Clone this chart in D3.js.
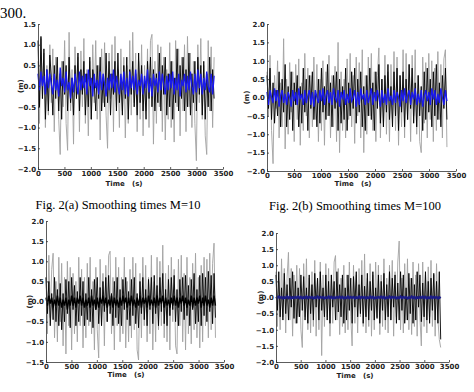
<!DOCTYPE html>
<html><head><meta charset="utf-8">
<script src="https://cdn.jsdelivr.net/npm/d3@7/dist/d3.min.js"></script>
<style>html,body{margin:0;padding:0;background:#fff}svg{display:block}</style>
</head><body>
<svg id="c" width="474" height="392"></svg>
<script>
// ---- data ----
const dt = 28; // sampling step (s)
const xTicks = [0,500,1000,1500,2000,2500,3000,3500];
const yTicksA = [1.5,1.0,0.5,0.0,-0.5,-1.0,-1.5,-2.0];
const yTicksB = [2.0,1.5,1.0,0.5,0.0,-0.5,-1.0,-1.5,-2.0];
const yTicksC = [2.0,1.5,1.0,0.5,0.0,-0.5,-1.0,-1.5];
const captions = ["Fig. 2(a) Smoothing times M=10","Fig. 2(b) Smoothing times M=100"];

const raw1 = [0.6,-0.9,1.15,-0.3,0.8,-1.0,0.5,-0.7,1.0,-0.4,
 0.9,-1.1,0.7,0.3,-0.8,-1.65,0.6,-0.5,1.1,-0.9,
 -1.55,1.3,-0.6,0.4,-1.4,0.95,-0.3,0.7,-1.1,0.85,
 -0.5,1.15,-0.9,0.4,-1.2,0.6,-0.8,1.0,-0.4,1.1,
 -0.8,0.5,-1.3,0.9,-0.4,1.05,-0.7,-1.5,0.8,-0.3,
 1.0,-1.1,1.2,-0.5,0.4,-1.0,0.9,-0.6,0.7,-1.25,
 0.5,-0.9,1.1,-0.7,1.3,-0.4,0.8,-1.1,0.6,-0.8,
 1.0,-1.2,0.5,-0.6,0.9,-1.0,1.1,1.25,-1.4,0.6,
 -0.9,1.0,-0.5,0.95,-1.1,0.7,-1.3,0.4,-0.8,1.05,
 -1.0,0.6,-1.35,1.1,-0.5,0.9,-1.2,0.7,-0.6,1.0,
 -1.1,1.2,-0.5,0.8,-1.0,0.6,-0.9,-1.8,1.0,-0.4,
 1.15,-0.8,0.5,-1.2,-1.65,1.1,-0.6,0.95,-1.0,0.7];
const mid1 = [1.1,-0.5,1.2,-0.3,0.9,-0.8,0.4,-0.6,0.75,0.2,
 -0.7,0.5,-0.3,0.7,-0.6,0.3,-0.8,0.6,-0.2,0.5,
 -0.6,0.7,-0.4,0.2,-0.7,0.5,-0.3,0.8,-0.6,0.4,
 -0.2,0.6,-0.7,0.3,-0.5,0.7,-0.8,0.4,0.1,-0.6,
 0.5,-0.3,0.7,-0.6,0.2,-0.5,0.8,-0.4,0.6,-0.7,
 0.3,-0.2,0.6,-0.6,0.8,-0.4,0.2,-0.7,0.5,-0.3,
 0.7,-0.8,0.4,-0.2,0.6,-0.5,0.3,-0.7,0.8,-0.4,
 0.5,-0.6,0.2,-0.8,0.6,-0.3,0.7,-0.5,0.4,-0.6,
 0.3,-0.4,0.8,-0.6,0.5,-0.2,0.7,-0.7,0.3,-0.5,
 0.6,-0.8,0.2,-0.4,0.9,-0.6,0.5,-0.3,0.7,-0.6,
 0.4,-0.5,0.8,-0.7,0.3,-0.4,0.6,-0.6,0.7,-0.2,
 0.5,-0.7,0.6,-0.8,0.3,-0.5,0.7,-0.6,0.4,-0.3];
const smooth1 = [0.3,-0.1,0.35,0.0,0.25,-0.2,0.4,-0.05,0.3,0.05,
 -0.2,0.3,-0.1,0.15,-0.25,0.45,0.0,0.2,-0.15,0.35,
 -0.1,0.1,-0.3,0.2,-0.15,0.3,0.05,-0.2,0.35,-0.1,
 0.25,-0.05,0.3,-0.2,0.4,0.0,0.2,-0.25,0.3,-0.05,
 0.15,-0.2,0.35,-0.1,0.3,0.05,-0.25,0.2,-0.1,0.3,
 -0.05,0.4,-0.15,0.25,0.0,-0.2,0.3,-0.1,0.35,-0.2,
 0.2,-0.25,0.35,-0.05,0.25,-0.1,0.4,-0.2,0.15,0.0,
 0.3,-0.2,0.25,-0.05,0.4,-0.15,0.2,-0.25,0.3,0.0,
 0.2,-0.15,0.35,-0.1,0.3,0.05,-0.2,0.25,-0.1,0.3,
 -0.05,0.35,-0.2,0.2,-0.1,0.3,-0.25,0.15,0.0,0.3,
 -0.15,0.25,-0.1,0.35,0.0,-0.2,0.3,-0.15,0.4,-0.05,
 0.3,-0.2,0.2,-0.1,0.35,0.0,-0.15,0.3,-0.2,0.25];

const raw2 = [0.7,-0.5,1.15,-0.9,-1.8,0.6,-0.3,1.0,-1.1,0.4,
 -0.8,1.6,-1.4,0.5,-1.0,0.95,-0.4,0.7,-1.2,0.9,
 -0.6,1.05,-1.3,0.4,-0.9,1.2,-0.5,0.8,-1.1,0.6,
 -0.8,1.1,-0.6,0.9,-1.2,0.5,-0.9,1.0,-1.3,0.7,
 -0.5,1.15,-1.1,0.6,-0.8,0.85,-1.2,1.5,-1.5,0.7,
 -0.9,0.5,-1.1,1.05,-0.6,1.2,-0.8,0.6,-1.25,1.1,
 -0.5,0.95,-1.1,1.3,-1.5,0.6,-1.0,1.1,-0.5,1.2,
 -0.9,0.7,-1.2,0.6,1.35,-1.1,0.5,-0.8,1.15,-1.0,
 0.7,-1.2,0.9,-0.6,1.25,-0.9,1.1,-1.3,0.6,-0.8,
 1.3,-1.1,1.2,-0.6,0.9,-1.2,1.15,-0.5,1.3,-1.0,
 0.6,-1.2,-1.5,1.1,-0.7,0.95,-1.1,1.2,-0.6,1.0,
 -1.2,0.8,-0.9,1.25,-0.6,0.9,-1.1,1.05,1.3,-1.35];
const mid2 = [0.6,-0.3,0.8,-0.6,0.4,-0.7,0.2,-0.5,0.7,-0.8,
 0.5,-0.4,0.9,-0.8,0.3,-0.6,0.7,-0.9,0.4,-0.2,
 0.6,-0.8,0.3,-0.7,0.8,-0.4,0.5,-0.9,0.6,-0.3,
 0.7,-0.6,0.2,-0.8,0.5,-0.7,0.8,-0.4,0.3,-0.6,
 0.9,-0.5,0.4,-0.8,0.6,-0.3,0.7,-0.9,0.5,-0.7,
 0.3,-0.6,0.8,-0.9,0.4,-0.5,0.7,-0.3,0.8,-0.7,
 0.5,-0.4,0.7,-0.8,0.3,-0.9,0.6,-0.5,0.8,-0.6,
 0.4,-0.9,0.7,-0.3,0.9,-0.7,0.5,-0.8,0.6,-0.4,
 0.9,-0.6,0.3,-0.8,0.7,-0.5,0.8,-0.9,0.6,-0.4,
 0.7,-0.8,0.5,-0.6,0.9,-0.3,0.8,-0.7,0.4,-0.8,
 0.6,-0.5,0.3,-0.9,0.7,-0.6,0.8,-0.4,0.5,-0.8,
 0.7,-0.5,0.9,-0.6,0.4,-0.8,0.6,-0.3,0.8,-0.6];
const smooth2 = [0.15,-0.2,0.2,0.0,-0.15,0.25,-0.1,0.2,-0.25,0.05,
 0.2,-0.15,0.1,-0.2,0.15,0.0,-0.25,0.2,-0.1,0.15,
 -0.2,0.25,-0.05,0.1,-0.2,0.2,-0.15,0.05,0.2,-0.2,
 0.15,-0.25,0.2,0.0,-0.15,0.2,-0.1,0.25,-0.2,0.05,
 0.2,-0.15,0.15,-0.2,0.25,0.0,-0.1,0.2,-0.25,0.15,
 -0.05,0.2,-0.2,0.1,-0.15,0.25,-0.1,0.0,0.2,-0.25,
 0.15,-0.2,0.25,-0.05,0.1,-0.2,0.2,-0.15,0.05,0.25,
 -0.2,0.15,-0.1,0.2,0.0,-0.25,0.2,-0.15,0.1,-0.2,
 0.25,-0.1,0.05,-0.2,0.2,-0.15,0.15,0.0,-0.25,0.2,
 -0.1,0.25,-0.15,0.05,0.2,-0.2,0.15,-0.05,0.25,-0.2,
 0.1,-0.15,0.2,-0.25,0.05,0.2,-0.1,0.15,-0.2,0.25,
 -0.05,0.2,-0.2,0.1,-0.15,0.25,0.0,-0.2,0.2,-0.1];

const raw3 = [0.6,-0.8,1.15,-0.4,0.8,1.2,-0.9,0.5,-1.0,1.1,
 -0.5,0.95,-1.1,0.6,-1.3,1.0,-0.6,0.85,-1.2,0.7,
 -0.8,0.5,-1.0,1.1,-0.6,0.8,-1.15,0.6,-0.9,0.95,
 -0.6,1.1,-0.8,0.5,-1.2,0.85,-0.7,-1.4,1.05,-0.5,
 0.7,-1.1,0.9,-0.5,1.15,1.25,-0.8,0.6,-1.2,1.1,
 -0.6,0.85,-1.0,0.6,-0.8,1.1,-1.15,0.5,-1.0,0.8,
 -0.9,1.1,-0.7,0.95,-1.2,-1.45,0.7,-0.9,1.1,-0.6,
 0.9,-1.0,0.6,-0.8,1.15,-1.2,0.5,-1.0,1.1,-0.7,
 1.0,-0.6,1.4,-0.9,0.7,-1.0,0.9,-1.2,1.1,-0.5,
 0.8,-1.1,-1.3,1.05,-0.6,1.15,-1.0,0.7,-1.2,1.1,
 -0.8,0.6,-1.05,0.95,-0.7,1.2,-0.9,0.6,-1.15,0.9,
 -1.0,1.1,-0.6,1.05,-0.9,1.2,-0.7,0.95,1.45,-0.9];
const mid3 = [0.6,-0.3,0.5,-0.6,0.2,-0.45,0.6,-0.5,0.3,-0.6,
 0.45,-0.7,0.2,-0.5,0.55,-0.3,0.5,-0.65,0.6,-0.2,
 0.4,-0.6,0.25,-0.5,0.6,-0.35,0.5,-0.6,0.2,-0.45,
 0.6,-0.5,0.3,-0.65,0.55,-0.2,0.6,-0.55,0.35,-0.6,
 0.5,-0.25,0.6,-0.5,0.65,-0.3,0.2,-0.6,0.5,-0.4,
 0.6,-0.55,0.3,-0.6,0.55,-0.2,0.6,-0.45,0.25,-0.6,
 0.55,-0.35,0.6,-0.55,0.2,-0.65,0.5,-0.3,0.6,-0.45,
 0.3,-0.6,0.55,-0.2,0.6,-0.55,0.65,-0.3,0.4,-0.6,
 0.6,-0.25,0.7,-0.55,0.3,-0.6,0.55,-0.35,0.6,-0.2,
 0.65,-0.5,0.3,-0.6,0.55,-0.25,0.6,-0.45,0.65,-0.35,
 0.4,-0.6,0.55,-0.2,0.7,-0.55,0.3,-0.5,0.65,-0.6,
 0.7,-0.35,0.6,-0.5,0.75,-0.25,0.65,-0.55,0.7,-0.4];
const smooth3 = [0.1,-0.1,0.15,-0.05,0.1,-0.15,0.05,-0.1,0.15,-0.1,
 0.1,-0.15,0.05,-0.1,0.1,-0.2,0.05,-0.1,0.15,-0.1,
 0.1,-0.15,0.1,-0.05,0.15,-0.1,0.1,-0.15,0.05,-0.1,
 0.1,-0.15,0.15,-0.1,0.05,-0.2,0.1,-0.15,0.1,-0.05,
 0.15,-0.1,0.1,-0.15,0.05,-0.1,0.15,-0.15,0.1,-0.1,
 0.05,-0.15,0.1,-0.1,0.15,-0.05,0.1,-0.15,0.1,-0.1,
 0.15,-0.1,0.05,-0.15,0.1,-0.1,0.15,-0.15,0.1,-0.05,
 0.1,-0.15,0.15,-0.1,0.05,-0.1,0.1,-0.15,0.15,-0.1,
 0.1,-0.05,0.15,-0.15,0.1,-0.1,0.05,-0.15,0.1,-0.1,
 0.15,-0.1,0.1,-0.15,0.1,-0.05,0.15,-0.1,0.1,-0.15,
 0.05,-0.1,0.15,-0.15,0.1,-0.1,0.1,-0.05,0.15,-0.15,
 0.1,-0.1,0.15,-0.1,0.05,-0.15,0.1,-0.1,0.15,-0.1];

const raw4 = [0.8,-0.9,0.5,-1.0,1.2,-0.6,0.9,-1.1,0.6,1.4,
 -0.7,0.9,-1.2,0.7,-0.8,1.0,-0.6,0.9,-1.0,-1.55,
 1.05,-0.6,1.2,-1.0,0.6,-1.1,0.8,-0.9,1.15,-1.2,
 0.6,-1.0,1.1,-1.8,0.7,-0.9,1.05,-0.6,0.9,-1.2,
 0.7,-0.8,1.1,1.3,-0.7,0.9,-1.15,0.6,-0.9,1.0,
 -1.1,0.7,-1.0,1.1,-0.6,-1.5,1.0,-0.8,0.7,-1.1,
 0.9,-0.6,1.15,-0.9,1.35,-1.1,0.6,-0.9,1.05,-1.2,
 0.7,-1.0,1.1,-0.6,1.0,-1.15,0.7,-0.9,1.2,-1.0,
 0.6,-1.1,1.0,-0.7,1.15,-1.2,0.8,-0.6,1.1,1.75,
 -1.0,0.6,-1.1,1.05,-0.7,1.2,-1.0,0.6,-1.15,1.1,
 -0.9,0.7,-1.2,1.05,-0.6,-1.5,1.1,-0.9,0.7,-1.1,
 0.95,-0.6,1.15,-0.9,0.7,-1.2,1.05,-0.7,-1.3,-1.55];
const mid4 = [0.7,-0.4,0.8,-0.6,0.3,-0.7,0.75,-0.5,0.4,-0.7,
 0.6,-0.3,0.8,-0.65,0.5,-0.8,0.3,-0.6,0.7,-0.4,
 0.65,-0.7,0.3,-0.8,0.7,-0.5,0.4,-0.7,0.75,-0.3,
 0.6,-0.7,0.8,-0.4,0.3,-0.6,0.7,-0.7,0.5,-0.8,
 0.7,-0.3,0.5,-0.7,0.8,-0.45,0.4,-0.6,0.7,-0.8,
 0.3,-0.7,0.7,-0.4,0.6,-0.8,0.65,-0.3,0.8,-0.6,
 0.4,-0.5,0.7,-0.8,0.35,-0.6,0.75,-0.7,0.5,-0.4,
 0.8,-0.7,0.3,-0.65,0.7,-0.8,0.5,-0.4,0.75,-0.7,
 0.4,-0.6,0.8,-0.7,0.6,-0.3,0.7,-0.8,0.45,-0.7,
 0.8,-0.4,0.7,-0.8,0.3,-0.7,0.75,-0.5,0.6,-0.8,
 0.4,-0.7,0.8,-0.3,0.7,-0.75,0.45,-0.6,0.8,-0.7,
 0.5,-0.8,0.6,-0.4,0.75,-0.7,0.5,-0.8,0.8,-1.3];
const smooth4 = [0.02,-0.02,0.03,-0.01,0.02,-0.03,0.01,-0.02,0.03,-0.02,
 0.02,-0.03,0.01,-0.02,0.02,-0.01,0.03,-0.02,0.02,-0.03,
 0.01,-0.02,0.03,-0.02,0.02,-0.01,0.02,-0.03,0.01,-0.02,
 0.03,-0.02,0.02,-0.01,0.02,-0.03,0.01,-0.02,0.03,-0.02,
 0.02,-0.03,0.01,-0.02,0.02,-0.01,0.03,-0.02,0.02,-0.03,
 0.01,-0.02,0.03,-0.02,0.02,-0.01,0.02,-0.03,0.01,-0.02,
 0.03,-0.02,0.02,-0.01,0.02,-0.03,0.01,-0.02,0.03,-0.02,
 0.02,-0.03,0.01,-0.02,0.02,-0.01,0.03,-0.02,0.02,-0.03,
 0.01,-0.02,0.03,-0.02,0.02,-0.01,0.02,-0.03,0.01,-0.02,
 0.03,-0.02,0.02,-0.01,0.02,-0.03,0.01,-0.02,0.03,-0.02,
 0.02,-0.03,0.01,-0.02,0.02,-0.01,0.03,-0.02,0.02,-0.03,
 0.01,-0.02,0.03,-0.02,0.02,-0.01,0.02,-0.03,0.01,-0.02];

// ---- drawing ----
const svg = d3.select('#c');
const GRAY = '#a2a2a2', BLACK = '#000', BLUE = '#1a1aee', NAVY = '#1c1c88';

svg.append('text').attr('x', 0).attr('y', 18)
  .style('font-family', '"Liberation Serif", serif').style('font-size', '15px')
  .text('300.');

function panel(o) {
  const x = d3.scaleLinear().domain([0, 3500]).range([o.x0, o.x1]);
  const y = d3.scaleLinear().domain(o.yDom).range([o.yBot, o.yTop]);
  const line = d3.line().x((d, i) => x(i * dt)).y(d => y(d));
  o.series.forEach(s => {
    svg.append('path').attr('d', line(s.v)).attr('fill', 'none')
      .attr('stroke', s.c).attr('stroke-width', s.w).attr('stroke-linejoin', 'miter');
  });
  const ax = svg.append('g').attr('transform', `translate(${o.x0},0)`)
    .call(d3.axisLeft(y).tickValues(o.yTicks).tickFormat(d3.format('.1f'))
      .tickSizeInner(-2).tickSizeOuter(0).tickPadding(2));
  const bx = svg.append('g').attr('transform', `translate(0,${o.yBot})`)
    .call(d3.axisBottom(x).tickValues(xTicks).tickFormat(d3.format('d'))
      .tickSizeInner(-2).tickSizeOuter(0).tickPadding(2));
  [ax, bx].forEach(g => {
    g.selectAll('path,line').attr('stroke', '#333').attr('stroke-width', 0.8);
    g.selectAll('text').style('font-family', '"DejaVu Sans", sans-serif')
      .style('font-size', '7px').style('font-weight', 'bold').attr('fill', '#222');
  });
  svg.append('text').attr('x', o.tx).attr('y', o.ty).attr('text-anchor', 'middle')
    .style('font-family', '"DejaVu Sans", sans-serif').style('font-size', '7px')
    .style('font-weight', 'bold').style('white-space', 'pre').attr('fill', '#222')
    .text('Time   (s)');
  svg.append('text').attr('transform', `translate(${o.lx},${y(0)}) rotate(-90)`)
    .attr('text-anchor', 'middle').attr('dy', '0.35em')
    .style('font-family', '"DejaVu Sans", sans-serif').style('font-size', '7px')
    .style('font-weight', 'bold').attr('fill', '#222').text('(m)');
}

panel({x0: 38, x1: 223, yTop: 24, yBot: 169, yDom: [-2, 1.5], yTicks: yTicksA,
  tx: 124, ty: 186, lx: 21,
  series: [{v: raw1, c: GRAY, w: 0.9}, {v: mid1, c: BLACK, w: 0.9}, {v: smooth1, c: BLUE, w: 1.3}]});
panel({x0: 267, x1: 456, yTop: 24, yBot: 171, yDom: [-2, 2], yTicks: yTicksB,
  tx: 353, ty: 186, lx: 247,
  series: [{v: raw2, c: GRAY, w: 0.9}, {v: mid2, c: BLACK, w: 0.9}, {v: smooth2, c: BLUE, w: 1.3}]});
panel({x0: 46, x1: 224, yTop: 221, yBot: 362, yDom: [-1.5, 2], yTicks: yTicksC,
  tx: 126, ty: 377, lx: 30,
  series: [{v: raw3, c: GRAY, w: 0.9}, {v: mid3, c: BLACK, w: 0.9}, {v: smooth3, c: BLACK, w: 1.4}]});
panel({x0: 276, x1: 449, yTop: 233, yBot: 362, yDom: [-2, 2], yTicks: yTicksB,
  tx: 355, ty: 378, lx: 261,
  series: [{v: raw4, c: GRAY, w: 0.9}, {v: mid4, c: BLACK, w: 0.9}, {v: smooth4, c: NAVY, w: 2.2}]});

svg.append('text').attr('x', 118).attr('y', 209).attr('text-anchor', 'middle')
  .style('font-family', '"Liberation Serif", serif').style('font-size', '12.5px').text(captions[0]);
svg.append('text').attr('x', 355).attr('y', 210).attr('text-anchor', 'middle')
  .style('font-family', '"Liberation Serif", serif').style('font-size', '12.5px').text(captions[1]);
</script>
</body></html>
